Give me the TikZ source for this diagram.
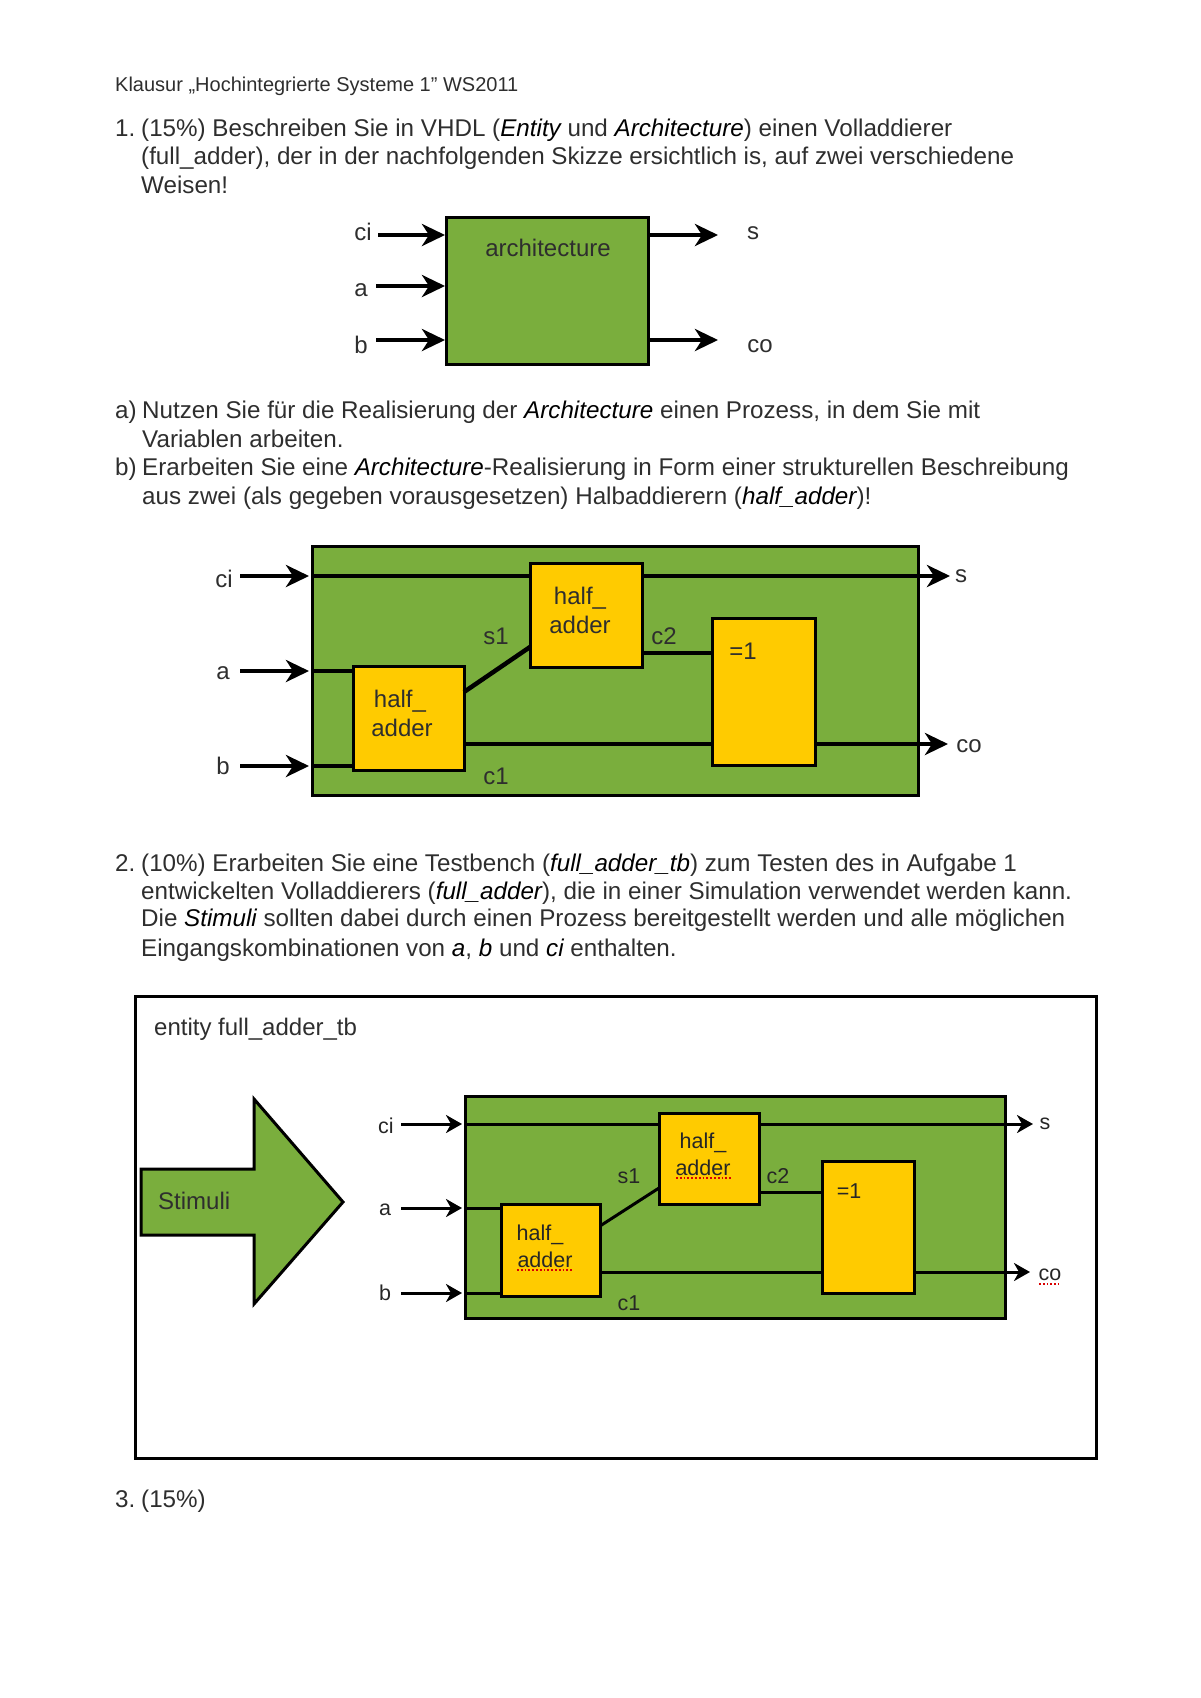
\documentclass[tikz,border=0pt]{standalone}
\usepackage{fontspec}
\usepackage{tikz}
\usetikzlibrary{arrows.meta}
\setmainfont{Liberation Sans}
\definecolor{boxgreen}{HTML}{7AAE3D}
\definecolor{boxyellow}{HTML}{FFCB00}
\tikzset{
    sheetline/.style={anchor=base west, inner sep=0pt, text=black!82, font=\fontsize{24.2}{29}\selectfont},
    headerline/.style={sheetline, font=\fontsize{20}{24}\selectfont},
    biglabel/.style={inner sep=0pt, text=black!82, font=\fontsize{24}{29}\selectfont},
    smalllabel/.style={inner sep=0pt, text=black!85, font=\fontsize{21.5}{25}\selectfont},
    greenbox/.style={draw=black, fill=boxgreen, line width=3pt, inner sep=0pt, outer sep=0pt},
    yellowbox/.style={draw=black, fill=boxyellow, line width=3pt, inner sep=0pt, outer sep=0pt},
    bigwire/.style={line width=4.5pt},
    bigarrow/.style={line width=4.5pt, -{Stealth[length=23pt,width=22pt,inset=7pt]}},
    smallwire/.style={line width=3pt},
    smallarrow/.style={line width=3pt, -{Stealth[length=16pt,width=18pt,inset=5pt]}},
    spellmark/.style={red!85!black, dotted, line width=1.8pt}
}
\begin{document}
\begin{tikzpicture}[x=1pt,y=-1pt]
    \useasboundingbox (0,0) rectangle (1200,1698);
    % Header
    \node[headerline] (header) at (115,91) {Klausur „Hochintegrierte Systeme 1" WS2011};
    % Question 1
    \node[sheetline] (numone) at (115,136) {1.};
    \node[sheetline] (qonea) at (141,136) {(15\%) Beschreiben Sie in VHDL (\textit{\textcolor{black}{Entity}} und \textit{\textcolor{black}{Architecture}}) einen Volladdierer};
    \node[sheetline] (qoneb) at (141,164) {(full\_adder), der in der nachfolgenden Skizze ersichtlich is, auf zwei verschiedene};
    \node[sheetline] (qonec) at (141,193) {Weisen!};
    % Architecture block
    \node[greenbox, minimum width=202pt, minimum height=147pt] (archbox) at (547,290.5) {};
    \node[biglabel] (archtext) at (548,248) {architecture};
    \coordinate (archci) at (378,235);
    \coordinate (archa) at (376,286);
    \coordinate (archb) at (376,340);
    \coordinate (archs) at (718,235);
    \coordinate (archco) at (718,340);
    \draw[bigarrow, shorten >=1pt] (archci) -- (archci -| archbox.west);
    \draw[bigarrow, shorten >=1pt] (archa) -- (archa -| archbox.west);
    \draw[bigarrow, shorten >=1pt] (archb) -- (archb -| archbox.west);
    \draw[bigarrow] (archs -| archbox.east) -- (archs);
    \draw[bigarrow] (archco -| archbox.east) -- (archco);
    \node[biglabel] (archcilabel) at (363,232) {ci};
    \node[biglabel] (archalabel) at (361,290) {a};
    \node[biglabel] (archblabel) at (361,345) {b};
    \node[biglabel] (archslabel) at (753,233) {s};
    \node[biglabel] (archcolabel) at (760,346) {co};
    % Parts a and b
    \node[sheetline] (parta) at (115,418) {a)};
    \node[sheetline] (partaa) at (142,418) {Nutzen Sie für die Realisierung der \textit{\textcolor{black}{Architecture}} einen Prozess, in dem Sie mit};
    \node[sheetline] (partab) at (142,447) {Variablen arbeiten.};
    \node[sheetline] (partb) at (115,475) {b)};
    \node[sheetline] (partba) at (142,475) {Erarbeiten Sie eine \textit{\textcolor{black}{Architecture}}-Realisierung in Form einer strukturellen Beschreibung};
    \node[sheetline] (partbb) at (142,504) {aus zwei (als gegeben vorausgesetzen) Halbaddierern (\textit{\textcolor{black}{half\_adder}})!};
    % Full adder, large
    \node[greenbox, minimum width=606pt, minimum height=249pt] (fabox) at (615,670.5) {};
    \node[yellowbox, minimum width=112pt, minimum height=104pt] (hatwo) at (586,615) {};
    \node[yellowbox, minimum width=111pt, minimum height=104pt] (haone) at (408.5,718) {};
    \node[yellowbox, minimum width=103pt, minimum height=147pt] (xorbox) at (763.5,691.5) {};
    \coordinate (faci) at (240,576);
    \coordinate (faa) at (240,671);
    \coordinate (fab) at (240,766);
    \coordinate (fas) at (950,576);
    \coordinate (faco) at (948,744);
    \draw[bigwire] (faci -| fabox.west) -- (faci -| hatwo.west);
    \draw[bigwire] (faa -| fabox.west) -- (faa -| haone.west);
    \draw[bigwire] (fab -| fabox.west) -- (fab -| haone.west);
    \draw[bigarrow, shorten >=3pt] (faci) -- (faci -| fabox.west);
    \draw[bigarrow, shorten >=3pt] (faa) -- (faa -| fabox.west);
    \draw[bigarrow, shorten >=3pt] (fab) -- (fab -| fabox.west);
    \draw[bigarrow] (fas -| hatwo.east) -- (fas);
    \draw[bigarrow] (faco -| xorbox.east) -- (faco);
    \draw[bigwire] (faco -| haone.east) -- (faco -| xorbox.west);
    \draw[bigwire] (hatwo.east |- 0,653) -- (xorbox.west |- 0,653);
    \draw[bigwire] (haone.east |- 0,692) -- (hatwo.west |- 0,647);
    \node[biglabel] (faoneh) at (400,701) {half\_};
    \node[biglabel] (faonea) at (402,728) {adder};
    \node[biglabel] (fatwoh) at (580,598) {half\_};
    \node[biglabel] (fatwoa) at (580,625) {adder};
    \node[biglabel] (faxor) at (743,651) {=1};
    \node[biglabel] (facilabel) at (224,579) {ci};
    \node[biglabel] (faalabel) at (223,673) {a};
    \node[biglabel] (fablabel) at (223,766) {b};
    \node[biglabel] (faslabel) at (961,576) {s};
    \node[biglabel] (facolabel) at (969,746) {co};
    \node[biglabel] (fasone) at (496,636) {s1};
    \node[biglabel] (facone) at (496,776) {c1};
    \node[biglabel] (factwo) at (664,636) {c2};
    % Question 2
    \node[sheetline] (numtwo) at (115,871) {2.};
    \node[sheetline] (qtwoa) at (141,871) {(10\%) Erarbeiten Sie eine Testbench (\textit{\textcolor{black}{full\_adder\_tb}}) zum Testen des in Aufgabe 1};
    \node[sheetline] (qtwob) at (141,899) {entwickelten Volladdierers (\textit{\textcolor{black}{full\_adder}}), die in einer Simulation verwendet werden kann.};
    \node[sheetline] (qtwoc) at (141,926) {Die \textit{\textcolor{black}{Stimuli}} sollten dabei durch einen Prozess bereitgestellt werden und alle möglichen};
    \node[sheetline] (qtwod) at (141,956) {Eingangskombinationen von \textit{\textcolor{black}{a}}, \textit{\textcolor{black}{b}} und \textit{\textcolor{black}{ci}} enthalten.};
    % Testbench frame
    \node[draw=black, line width=3pt, inner sep=0pt, minimum width=961pt, minimum height=462pt] (tbframe) at (615.5,1227) {};
    \node[biglabel, anchor=west] (tbtitle) at (154,1029) {entity full\_adder\_tb};
    % Stimuli arrow
    \draw[fill=boxgreen, line width=3pt] (141,1169) -- (254,1169) -- (254,1099) -- (343,1202) -- (254,1304) -- (254,1235) -- (141,1235) -- cycle;
    \node[biglabel, anchor=west] (stimtext) at (158,1201) {Stimuli};
    % Full adder, small
    \node[greenbox, minimum width=540pt, minimum height=222pt] (tbbox) at (735,1207) {};
    \node[yellowbox, minimum width=100pt, minimum height=91pt] (tbtwo) at (709,1158.5) {};
    \node[yellowbox, minimum width=99pt, minimum height=92pt] (tbone) at (550.5,1250) {};
    \node[yellowbox, minimum width=92pt, minimum height=132pt] (tbxor) at (868,1227) {};
    \coordinate (tbci) at (401,1124);
    \coordinate (tba) at (401,1208);
    \coordinate (tbb) at (401,1293);
    \coordinate (tbs) at (1033,1124);
    \coordinate (tbco) at (1030,1272);
    \draw[smallwire] (tbci -| tbbox.west) -- (tbci -| tbtwo.west);
    \draw[smallwire] (tba -| tbbox.west) -- (tba -| tbone.west);
    \draw[smallwire] (tbb -| tbbox.west) -- (tbb -| tbone.west);
    \draw[smallarrow, shorten >=3pt] (tbci) -- (tbci -| tbbox.west);
    \draw[smallarrow, shorten >=3pt] (tba) -- (tba -| tbbox.west);
    \draw[smallarrow, shorten >=3pt] (tbb) -- (tbb -| tbbox.west);
    \draw[smallarrow] (tbs -| tbtwo.east) -- (tbs);
    \draw[smallarrow] (tbco -| tbxor.east) -- (tbco);
    \draw[smallwire] (tbco -| tbone.east) -- (tbco -| tbxor.west);
    \draw[smallwire] (tbtwo.east |- 0,1192) -- (tbxor.west |- 0,1192);
    \draw[smallwire] (tbone.east |- 0,1226) -- (tbtwo.west |- 0,1188);
    \node[smalllabel] (tboneh) at (540,1235) {half\_};
    \node[smalllabel] (tbonea) at (545,1260) {adder};
    \node[smalllabel] (tbtwoh) at (703,1143) {half\_};
    \node[smalllabel] (tbtwoa) at (703,1168) {adder};
    \node[smalllabel] (tbxortext) at (849,1191) {=1};
    \node[smalllabel] (tbcilabel) at (386,1126) {ci};
    \node[smalllabel] (tbalabel) at (385,1210) {a};
    \node[smalllabel] (tbblabel) at (385,1293) {b};
    \node[smalllabel] (tbslabel) at (1045,1124) {s};
    \node[smalllabel] (tbcolabel) at (1050,1275) {co};
    \node[smalllabel] (tbsone) at (629,1176) {s1};
    \node[smalllabel] (tbcone) at (629,1303) {c1};
    \node[smalllabel] (tbctwo) at (778,1176) {c2};
    % Spell check marks
    \draw[spellmark] (676,1178) -- (731,1178);
    \draw[spellmark] (517,1270) -- (572,1270);
    \draw[spellmark] (1039,1284) -- (1059,1284);
    % Question 3
    \node[sheetline] (numthree) at (115,1507) {3.};
    \node[sheetline] (qthree) at (141,1507) {(15\%)};
\end{tikzpicture}
\end{document}
